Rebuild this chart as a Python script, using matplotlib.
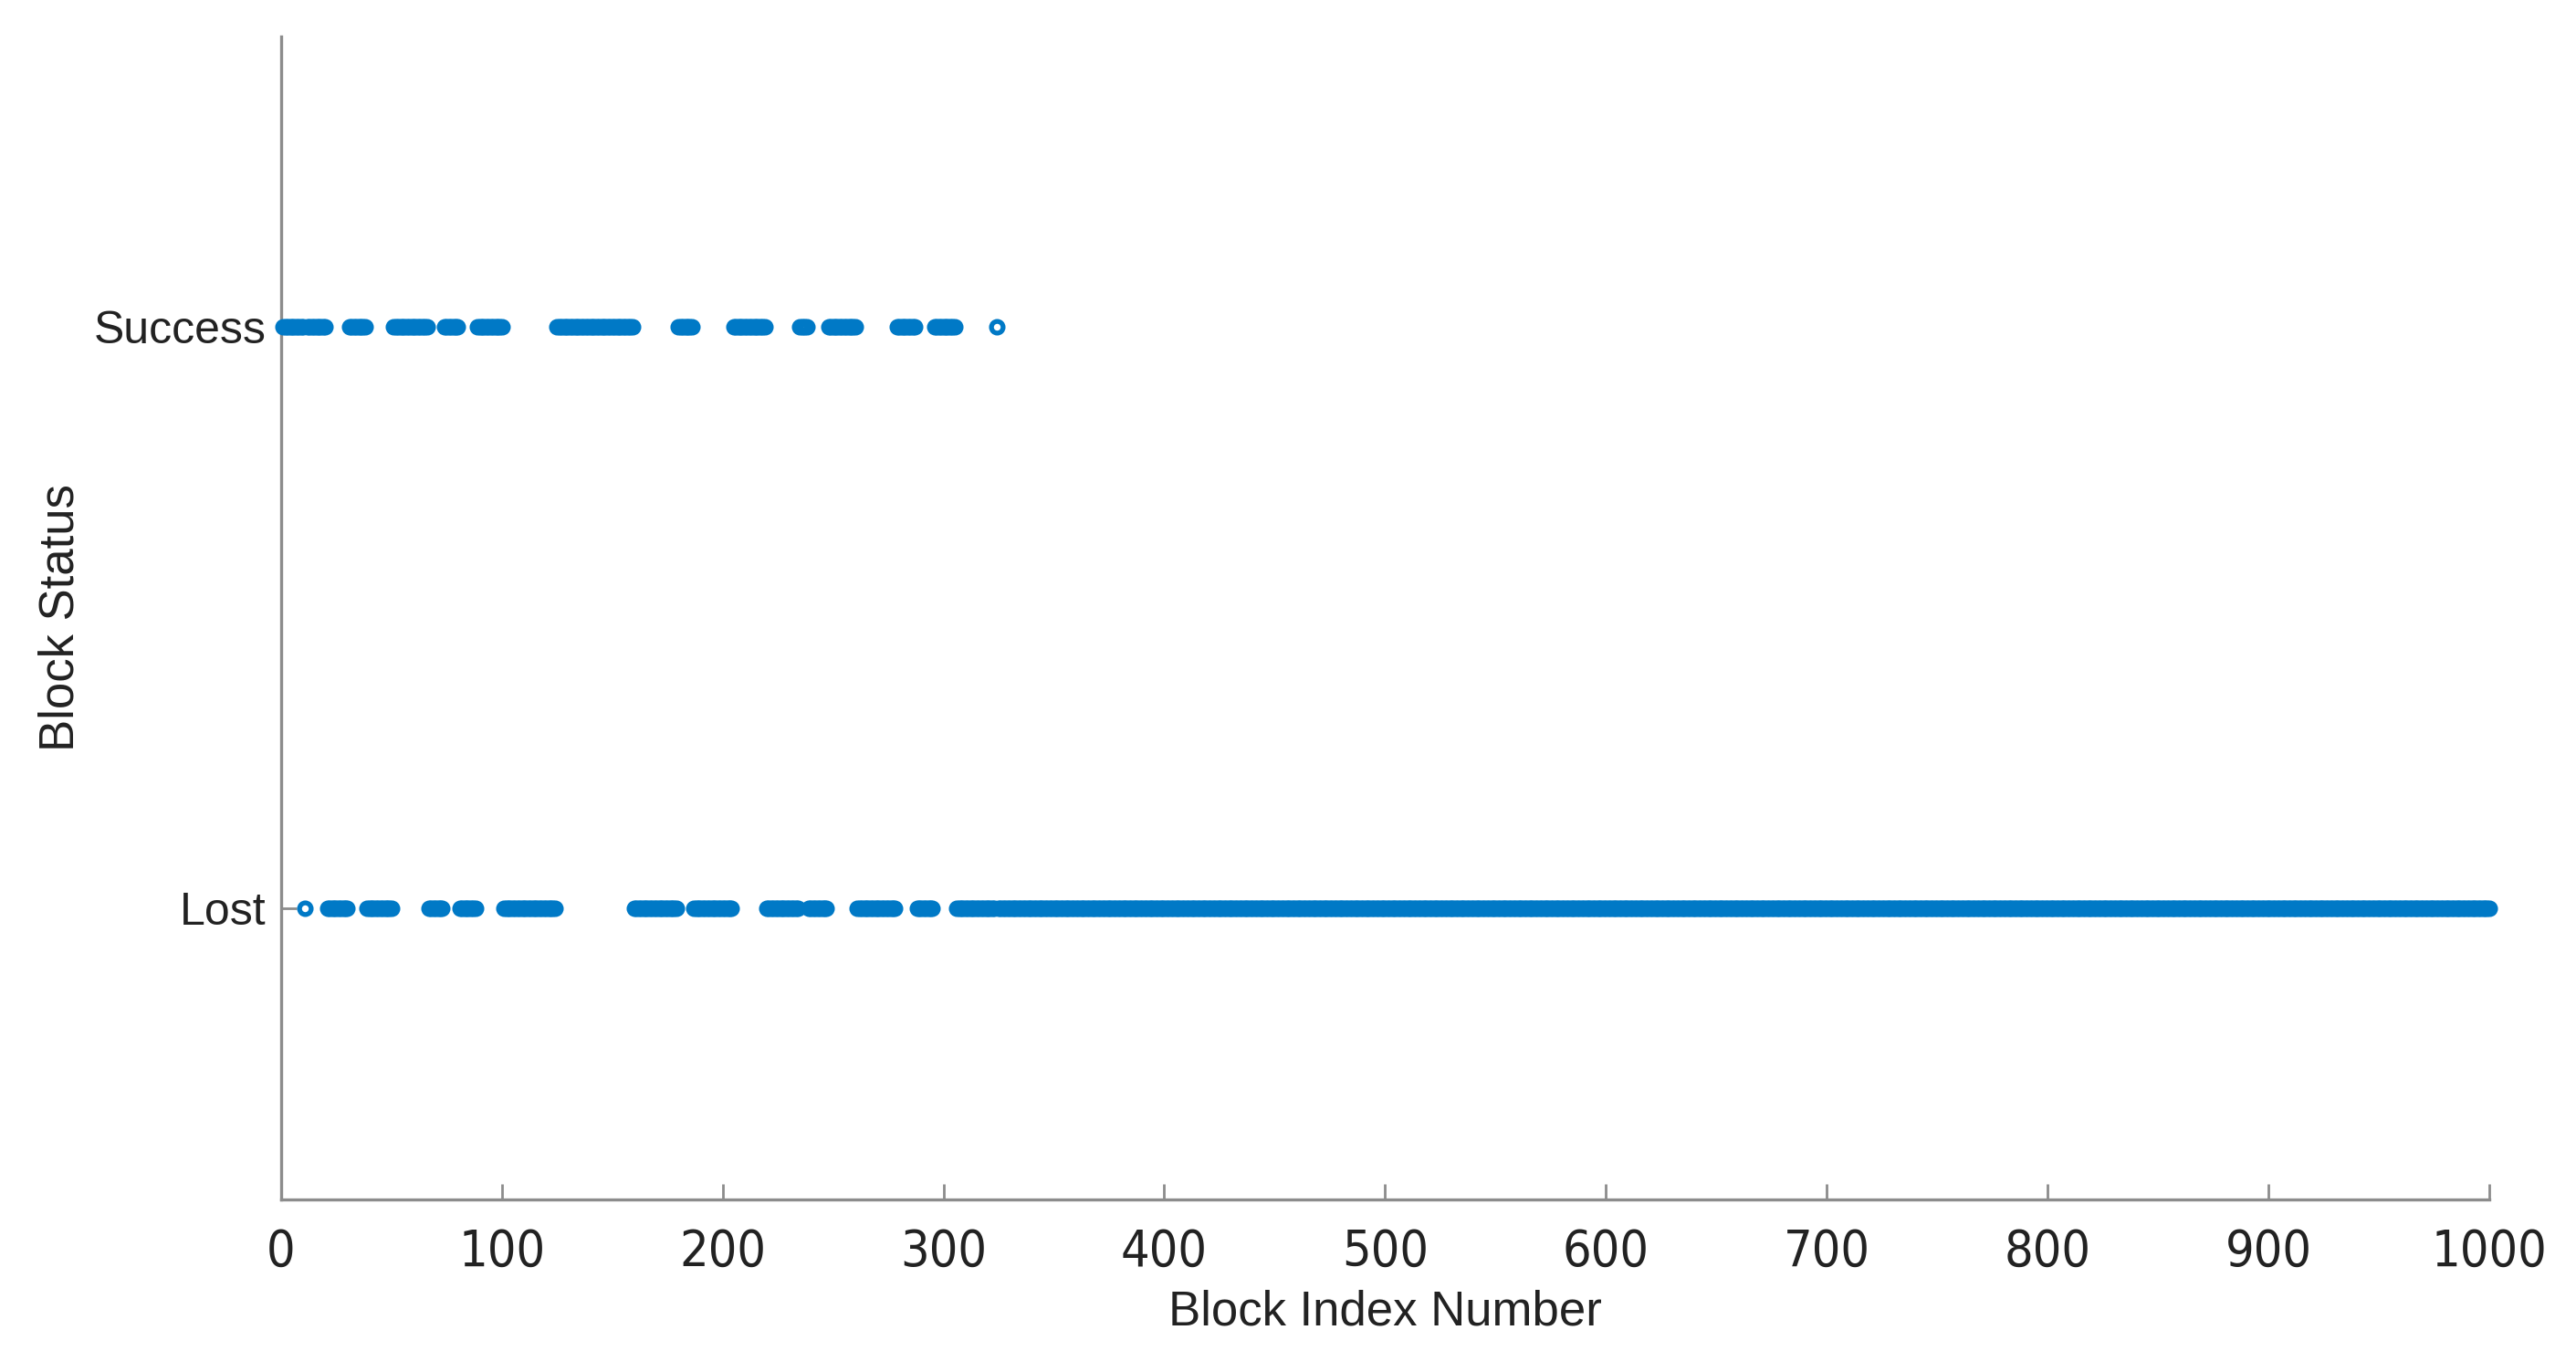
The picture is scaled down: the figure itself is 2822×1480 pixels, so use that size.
import numpy as np
import matplotlib
matplotlib.use("Agg")
import matplotlib.pyplot as plt

# runs of consecutive block indices (start, end)
success_runs = [(1, 10), (12, 20), (31, 38), (51, 66), (74, 80), (89, 100),
                (125, 159), (180, 186), (205, 219), (235, 238), (248, 260),
                (279, 287), (296, 305), (324, 324)]
lost_runs = [(11, 11), (21, 30), (39, 50), (67, 73), (81, 88), (101, 124),
             (160, 179), (187, 204), (220, 234), (239, 247), (261, 278),
             (288, 295), (306, 323), (325, 1000)]
status_labels = ["Lost", "Success"]
x_ticks = [0, 100, 200, 300, 400, 500, 600, 700, 800, 900, 1000]


def expand(runs):
    return np.concatenate([np.arange(a, b + 1) for a, b in runs])


x_success = expand(success_runs)
x_lost = expand(lost_runs)

blue = "#0079c6"
gray = "#8c8c8c"

fig = plt.figure(figsize=(14.11, 7.4), dpi=200)
ax = fig.add_axes([0.1091, 0.1122, 0.8572, 0.8608])

ax.plot(x_success, np.ones_like(x_success), "o", ms=4.6, mfc="none", mec=blue,
        mew=1.9, clip_on=False, zorder=3)
ax.plot(x_lost, np.zeros_like(x_lost), "o", ms=4.6, mfc="none", mec=blue,
        mew=1.9, clip_on=False, zorder=3)

ax.set_xlim(0, 1000)
ax.set_ylim(-0.5, 1.5)

for s in ["top", "right"]:
    ax.spines[s].set_visible(False)
for s in ["left", "bottom"]:
    ax.spines[s].set_color(gray)
    ax.spines[s].set_linewidth(1.2)

ax.set_yticks([0, 1])
ax.set_yticklabels(status_labels, fontsize=18, family="Liberation Sans",
                   color="#222222")
ax.set_xticks(x_ticks)
ax.set_xticklabels([str(t) for t in x_ticks], fontsize=20,
                   family="DejaVu Sans", fontstretch="condensed",
                   color="#222222")
ax.tick_params(axis="both", direction="in", length=6, width=1, color=gray)
ax.tick_params(axis="x", pad=11)
ax.tick_params(axis="y", pad=6)

ax.set_xlabel("Block Index Number", fontsize=19, family="Liberation Sans",
              color="#222222", labelpad=5)
ax.set_ylabel("Block Status", fontsize=19, family="Liberation Sans",
              color="#222222", labelpad=4)

fig.savefig("out.png", dpi=200)
